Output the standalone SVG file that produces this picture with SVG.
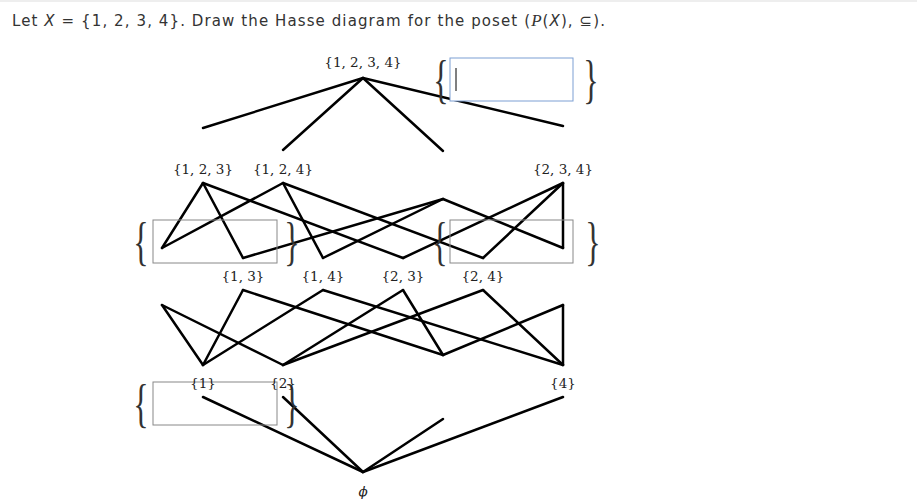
<svg xmlns="http://www.w3.org/2000/svg" width="917" height="501" viewBox="0 0 917 501">
<style>
.t{font-family:"DejaVu Sans",sans-serif;font-size:15px;fill:#333}
.l{font-family:"DejaVu Serif","Liberation Serif",serif;font-size:13.5px;fill:#222;text-anchor:middle}
.br{font-family:"Liberation Serif",serif;font-size:40px;fill:#333;text-anchor:middle}
.bx{fill:none;stroke:#888;stroke-width:1}
#edges line{stroke:#000;stroke-width:2.5;stroke-linecap:round}
</style>
<rect width="917" height="501" fill="#fff"/>
<line x1="0" y1="1" x2="917" y2="1" stroke="#ddd"/>
<text class="t" x="12" y="26" textLength="593" lengthAdjust="spacing">Let  <tspan font-style="italic">X</tspan> = {1, 2, 3, 4}.  Draw the Hasse diagram for the poset  (<tspan font-family="Liberation Serif" font-style="italic" font-size="17">P</tspan>(<tspan font-style="italic">X</tspan>), ⊆).</text>
<g id="edges">
<line x1="363" y1="78" x2="203" y2="128"/><line x1="363" y1="78" x2="283" y2="150"/><line x1="363" y1="78" x2="443" y2="151"/><line x1="363" y1="78" x2="563" y2="126"/>
<line x1="203" y1="183" x2="162" y2="248"/><line x1="203" y1="183" x2="243" y2="258"/><line x1="203" y1="183" x2="403" y2="258"/>
<line x1="283" y1="183" x2="162" y2="248"/><line x1="283" y1="183" x2="323" y2="258"/><line x1="283" y1="183" x2="483" y2="258"/>
<line x1="443" y1="199" x2="243" y2="258"/><line x1="443" y1="199" x2="323" y2="258"/><line x1="443" y1="199" x2="563" y2="248"/>
<line x1="563" y1="183" x2="403" y2="258"/><line x1="563" y1="183" x2="483" y2="258"/><line x1="563" y1="183" x2="563" y2="248"/>
<line x1="162" y1="305" x2="203" y2="365"/><line x1="162" y1="305" x2="283" y2="365"/>
<line x1="243" y1="290" x2="203" y2="365"/><line x1="243" y1="290" x2="443" y2="355"/>
<line x1="323" y1="290" x2="203" y2="365"/><line x1="323" y1="290" x2="563" y2="365"/>
<line x1="403" y1="290" x2="283" y2="365"/><line x1="403" y1="290" x2="443" y2="355"/>
<line x1="483" y1="290" x2="283" y2="365"/><line x1="483" y1="290" x2="563" y2="365"/>
<line x1="563" y1="305" x2="443" y2="355"/><line x1="563" y1="305" x2="563" y2="365"/>
<line x1="203" y1="397" x2="363" y2="472"/><line x1="283" y1="397" x2="363" y2="472"/><line x1="443" y1="419" x2="363" y2="472"/><line x1="563" y1="397" x2="363" y2="472"/>
</g>
<g id="n1234"><text class="l" x="363" y="67">{1, 2, 3, 4}</text></g>
<g id="input1"><text class="br" transform="translate(441,97) scale(0.8,1.3)">{</text><rect x="450" y="58" width="123" height="43" fill="#fff" stroke="#7d9fd3"/><line x1="456" y1="68" x2="456" y2="91" stroke="#000"/><text class="br" transform="translate(591,97) scale(0.8,1.3)">}</text></g>
<g id="n123"><text class="l" x="203" y="174">{1, 2, 3}</text></g>
<g id="n124"><text class="l" x="283" y="174">{1, 2, 4}</text></g>
<g id="n234"><text class="l" x="563" y="174">{2, 3, 4}</text></g>
<g id="input2"><text class="br" transform="translate(141,259) scale(0.8,1.3)">{</text><rect class="bx" x="153" y="220" width="124" height="43"/><text class="br" transform="translate(292,259) scale(0.8,1.3)">}</text></g>
<g id="input3"><text class="br" transform="translate(440,259) scale(0.8,1.3)">{</text><rect class="bx" x="450" y="220" width="123" height="43"/><text class="br" transform="translate(593,259) scale(0.8,1.3)">}</text></g>
<g id="n13"><text class="l" x="243" y="281">{1, 3}</text></g>
<g id="n14"><text class="l" x="323" y="281">{1, 4}</text></g>
<g id="n23"><text class="l" x="403" y="281">{2, 3}</text></g>
<g id="n24"><text class="l" x="483" y="281">{2, 4}</text></g>
<g id="input4"><text class="br" transform="translate(141,421) scale(0.8,1.3)">{</text><rect class="bx" x="153" y="382" width="124" height="43"/><text class="br" transform="translate(292,421) scale(0.8,1.3)">}</text></g>
<g id="n1"><text class="l" x="203" y="388">{1}</text></g>
<g id="n2"><text class="l" x="283" y="388">{2}</text></g>
<g id="n4"><text class="l" x="563" y="388">{4}</text></g>
<g id="nempty"><text class="l" x="363" y="496" font-size="16" font-style="italic">ϕ</text></g>
</svg>
